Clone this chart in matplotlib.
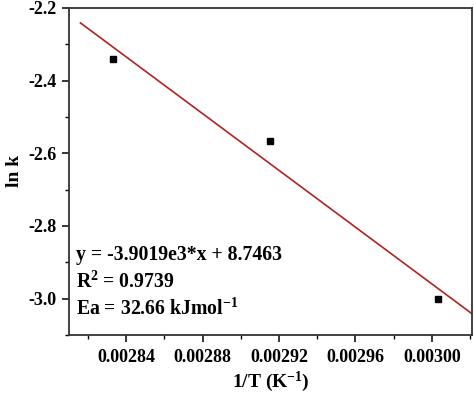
import numpy as np
import matplotlib.pyplot as plt
from matplotlib.ticker import MultipleLocator, FixedLocator

# Arrhenius data: 1/T and ln k
inv_T = [0.0028329, 0.0029155, 0.0030030]
ln_k = [-2.340, -2.566, -3.001]

# linear fit shown on the chart
slope = -3901.9
intercept = 8.7463
fit_x = [0.002816, 0.00303]

x_ticks = [0.00284, 0.00288, 0.00292, 0.00296, 0.00300]
x_tick_labels = ['0.00284', '0.00288', '0.00292', '0.00296', '0.00300']
y_ticks = [-3.0, -2.8, -2.6, -2.4, -2.2]

plt.rcParams['font.family'] = ['Liberation Serif', 'DejaVu Serif']
plt.rcParams['font.weight'] = 'bold'
plt.rcParams['mathtext.fontset'] = 'custom'
plt.rcParams['mathtext.rm'] = 'Liberation Serif:bold'
plt.rcParams['mathtext.bf'] = 'Liberation Serif:bold'
plt.rcParams['mathtext.it'] = 'Liberation Serif:bold:italic'
plt.rcParams['mathtext.default'] = 'bf'

fig = plt.figure(figsize=(4.74, 3.97), dpi=100)
ax = fig.add_axes([0.1456, 0.1562, 0.850, 0.824])

fx = np.array(fit_x)
ax.plot(fx, slope * fx + intercept, color='#b22222', lw=1.2)
ax.plot(inv_T, ln_k, 's', color='black', ms=4.5)

ax.set_xlim(0.00281, 0.003021)
ax.set_ylim(-3.1, -2.2)
ax.xaxis.set_major_locator(FixedLocator(x_ticks))
ax.set_xticklabels(x_tick_labels)
ax.xaxis.set_minor_locator(MultipleLocator(0.00002))
ax.yaxis.set_major_locator(FixedLocator(y_ticks))
ax.yaxis.set_minor_locator(MultipleLocator(0.1))
ax.yaxis.set_major_formatter(plt.FuncFormatter(lambda v, p: f'{v:.1f}'))

ax.tick_params(which='major', direction='out', length=5, width=1.1,
               labelsize=13, colors='black')
ax.tick_params(axis='y', which='major', pad=4)
ax.tick_params(axis='x', which='major', pad=5)
ax.tick_params(which='minor', direction='out', length=3, width=1.0)
ax.tick_params(axis='x', which='both', top=False)
ax.tick_params(axis='y', which='both', right=False)
for s in ax.spines.values():
    s.set_linewidth(1.3)
    s.set_color('#333333')

ax.set_xlabel('1/T (K$^{-1}$)', fontsize=14, fontweight='bold', labelpad=3)
ax.set_ylabel('ln k', fontsize=14, fontweight='bold', labelpad=4)

txt = dict(transform=ax.transAxes, fontsize=14.2, fontweight='bold', va='center', ha='left')
ax.text(0.018, 0.245, 'y = -3.9019e3*x + 8.7463', **txt)
ax.text(0.018, 0.162, 'R$^{2}$ = 0.9739', **txt)
ax.text(0.018, 0.078, 'Ea = 32.66 kJmol$^{-1}$', **txt)

fig.savefig('out.png', dpi=100)
